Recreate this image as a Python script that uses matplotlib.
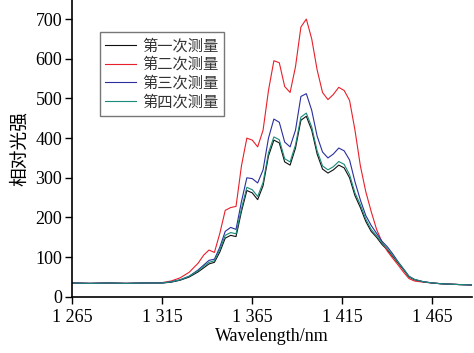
import numpy as np
import matplotlib
matplotlib.use("Agg")
from matplotlib import pyplot as plt

wavelength = [1265, 1275, 1285, 1295, 1305, 1315, 1320, 1325, 1330, 1335,
              1338, 1341, 1344, 1347, 1350, 1353, 1356, 1359, 1362, 1365,
              1368, 1371, 1374, 1377, 1380, 1383, 1386, 1389, 1392, 1395,
              1398, 1401, 1404, 1407, 1410, 1413, 1416, 1419, 1422, 1425,
              1428, 1431, 1434, 1437, 1440, 1443, 1446, 1449, 1452, 1455,
              1460, 1465, 1470, 1475, 1480, 1487]

run1 = [35, 34, 35, 34, 35, 35, 37, 42, 50, 63,
        73, 83, 87, 113, 148, 155, 152, 215, 268, 262,
        245, 280, 355, 395, 388, 340, 332, 375, 445, 455,
        420, 360, 322, 312, 320, 332, 325, 300, 255, 225,
        190, 165, 150, 132, 118, 102, 85, 68, 50, 43,
        38, 35, 33, 32, 31, 30]

run2 = [35, 34, 35, 34, 35, 36, 40, 48, 62, 85,
        105, 118, 112, 160, 218, 225, 228, 330, 400, 395,
        378, 420, 520, 595, 590, 530, 515, 580, 680, 700,
        650, 572, 515, 497, 510, 528, 520, 495, 420, 330,
        265, 215, 170, 138, 115, 97, 80, 62, 46, 40,
        37, 35, 33, 32, 31, 30]

run3 = [35, 34, 35, 34, 35, 35, 38, 43, 52, 68,
        80, 92, 95, 125, 165, 175, 170, 240, 300, 298,
        287, 320, 400, 448, 440, 390, 378, 420, 505, 512,
        470, 405, 365, 350, 360, 375, 368, 345, 290, 244,
        205, 180, 160, 140, 126, 108, 88, 70, 52, 44,
        38, 35, 33, 32, 31, 30]

run4 = [35, 34, 35, 34, 35, 35, 38, 43, 52, 66,
        77, 87, 91, 119, 155, 162, 159, 222, 276, 270,
        253, 288, 363, 403, 396, 348, 340, 383, 453, 463,
        428, 368, 330, 320, 328, 341, 334, 308, 262, 232,
        196, 170, 154, 136, 121, 104, 87, 70, 51, 44,
        38, 35, 33, 32, 31, 30]

labels = ["第一次测量", "第二次测量", "第三次测量", "第四次测量"]
colors = ["#111111", "#e8202a", "#2a2f9c", "#1a8a78"]
ticks_x = [1265, 1315, 1365, 1415, 1465]
tick_labels_x = ["1 265", "1 315", "1 365", "1 415", "1 465"]

serif = ["Liberation Serif", "DejaVu Serif"]
cjk = ["Noto Sans CJK SC", "DejaVu Sans"]

fig = plt.figure(figsize=(4.74, 3.53), dpi=100)
ax = fig.add_axes([0.152, 0.159, 0.844, 0.841])

for y, c, lab in zip([run1, run2, run3, run4], colors, labels):
    ax.plot(wavelength, y, color=c, lw=0.8, label=lab)

ax.set_xlim(1265, 1487)
ax.set_ylim(0, 748)
ax.set_xticks(ticks_x)
ax.set_xticklabels(tick_labels_x)
ax.set_yticks(range(0, 701, 100))
for t in ax.get_xticklabels() + ax.get_yticklabels():
    t.set_family(serif)
    t.set_fontsize(13)
ax.tick_params(direction="out", length=5, width=1, pad=2)
ax.tick_params(axis="x", pad=4)

ax.spines["top"].set_visible(False)
ax.spines["right"].set_visible(False)
ax.spines["left"].set_linewidth(1.2)
ax.spines["bottom"].set_linewidth(1.2)

ax.set_xlabel("Wavelength/nm", family=serif, fontsize=13, labelpad=1)
ax.set_ylabel("相对光强", family=cjk, fontsize=13.5, labelpad=4)

leg = ax.legend(loc="upper left", bbox_to_anchor=(0.07, 0.893),
                prop={"family": cjk, "size": 11}, handlelength=2.0,
                handletextpad=0.4, labelspacing=0.12, borderpad=0.35,
                fancybox=False, framealpha=1, borderaxespad=0)
leg.get_frame().set_edgecolor("#777777")
leg.get_frame().set_linewidth(1.0)
for t in leg.get_texts():
    t.set_color("#333333")

fig.savefig("out.png", dpi=100)
